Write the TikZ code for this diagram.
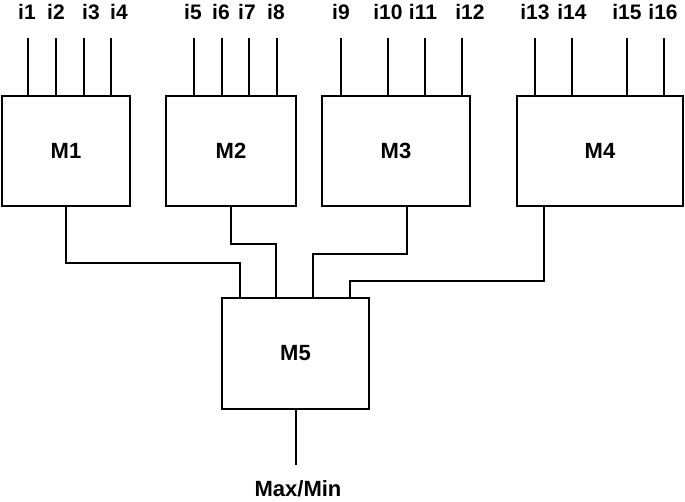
\documentclass[tikz,border=0pt]{standalone}
\usepackage{fontspec}
\setmainfont{Liberation Sans}
\usetikzlibrary{positioning,calc}
\tikzset{
  block/.style={draw=black, line width=2pt, minimum width=#1, minimum height=110pt, inner sep=0pt, font=\bfseries\fontsize{22}{26}\selectfont},
  wire/.style={line width=2pt},
  pinlbl/.style={anchor=base, inner sep=0pt, font=\bfseries\fontsize{21}{25}\selectfont}
}
\begin{document}
\begin{tikzpicture}[x=1pt,y=-1pt]
\useasboundingbox (0,0) rectangle (685,501);
\node[block=128pt] (m1) at (66,151) {M1};
\node[block=130pt] (m2) at (231,151) {M2};
\node[block=148pt] (m3) at (396,151) {M3};
\node[block=166pt] (m4) at (600,151) {M4};
\node[block=147pt, minimum height=111pt] (m5) at (295.5,353.5) {M5};
\foreach \b/\x/\lx/\n in {m1/28/27/1, m1/56/56/2, m1/84/91/3, m1/111/119/4,
  m2/194/193/5, m2/222/221/6, m2/249/247/7, m2/277/276/8,
  m3/341/341/9, m3/388/388/10, m3/425/423/11, m3/462/470/12,
  m4/535/535/13, m4/572/572/14, m4/627/627/15, m4/664/663/16}{
  \node[pinlbl] (i\n) at (\lx,19) {i\n};
  \draw[wire] (\b.north -| \x,0) -- ++(0,-57);
}
\draw[wire] (m1.south) -- ++(0,56) -| ([xshift=19pt]m5.north west);
\draw[wire] (m2.south) -- ++(0,37) -| ([xshift=55pt]m5.north west);
\draw[wire] ([xshift=11pt]m3.south) -- ++(0,47) -| ([xshift=92pt]m5.north west);
\draw[wire] ([xshift=-56pt]m4.south) -- ++(0,74) -| ([xshift=129pt]m5.north west);
\node[block=0pt, draw=none, minimum height=0pt, anchor=base] (out) at (298,496) {Max/Min};
\draw[wire] (m5.south) -- ++(0,55);
\end{tikzpicture}
\end{document}
